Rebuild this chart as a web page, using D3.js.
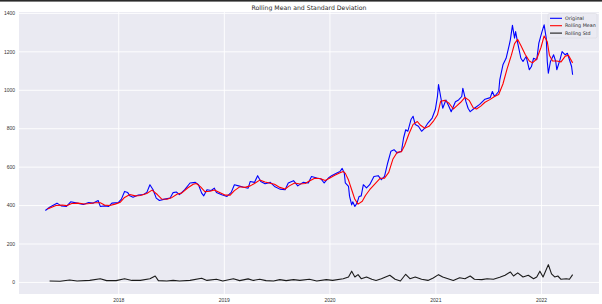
<!DOCTYPE html>
<html>
<head>
<meta charset="utf-8">
<script src="https://cdn.jsdelivr.net/npm/d3@7"></script>
<style>
  body { margin: 0; background: #fff; }
  svg { display: block; font-family: "DejaVu Sans", sans-serif; }
</style>
</head>
<body>
<svg id="chart" width="602" height="304"></svg>
<script>
// [decimal year, price]
const original = [
  [2017.31, 372], [2017.35, 389], [2017.42, 410], [2017.46, 396], [2017.51, 393],
  [2017.55, 417], [2017.61, 410], [2017.67, 403], [2017.72, 413], [2017.76, 410],
  [2017.81, 424], [2017.83, 393], [2017.87, 396], [2017.91, 393], [2017.94, 410],
  [2018.00, 413], [2018.03, 431], [2018.06, 471], [2018.09, 465], [2018.11, 448],
  [2018.14, 441], [2018.19, 452], [2018.24, 455], [2018.27, 465], [2018.30, 506],
  [2018.33, 480], [2018.36, 436], [2018.39, 424], [2018.44, 431], [2018.49, 436],
  [2018.52, 465], [2018.55, 468], [2018.58, 454], [2018.63, 480], [2018.68, 515],
  [2018.73, 518], [2018.76, 506], [2018.79, 462], [2018.81, 448], [2018.84, 480],
  [2018.88, 476], [2018.91, 488], [2018.93, 466], [2018.98, 454], [2019.03, 445],
  [2019.07, 466], [2019.10, 506], [2019.14, 500], [2019.18, 494], [2019.23, 488],
  [2019.25, 523], [2019.29, 518], [2019.32, 553], [2019.35, 523], [2019.39, 511],
  [2019.44, 518], [2019.48, 497], [2019.53, 483], [2019.58, 480], [2019.61, 515],
  [2019.66, 527], [2019.70, 500], [2019.75, 518], [2019.80, 515], [2019.83, 549],
  [2019.88, 541], [2019.92, 536], [2019.95, 515], [2019.99, 541], [2020.02, 553],
  [2020.07, 567], [2020.10, 575], [2020.12, 591], [2020.14, 567], [2020.15, 515],
  [2020.18, 497], [2020.19, 445], [2020.21, 401], [2020.22, 417], [2020.24, 393],
  [2020.26, 410], [2020.28, 445], [2020.30, 448], [2020.32, 506], [2020.35, 489],
  [2020.38, 506], [2020.42, 549], [2020.46, 553], [2020.49, 532], [2020.52, 549],
  [2020.55, 619], [2020.58, 680], [2020.61, 688], [2020.64, 671], [2020.68, 680],
  [2020.70, 749], [2020.72, 792], [2020.74, 784], [2020.77, 845], [2020.79, 862],
  [2020.81, 819], [2020.84, 810], [2020.87, 784], [2020.90, 801], [2020.93, 827],
  [2020.97, 853], [2021.00, 897], [2021.02, 966], [2021.03, 1027], [2021.05, 965],
  [2021.07, 904], [2021.10, 947], [2021.13, 912], [2021.15, 886], [2021.19, 938],
  [2021.22, 947], [2021.25, 965], [2021.26, 1008], [2021.29, 938], [2021.31, 904],
  [2021.33, 886], [2021.37, 904], [2021.42, 924], [2021.47, 951], [2021.52, 959],
  [2021.54, 991], [2021.56, 965], [2021.60, 991], [2021.61, 1051], [2021.64, 1130],
  [2021.67, 1164], [2021.70, 1234], [2021.71, 1260], [2021.73, 1335], [2021.75, 1269],
  [2021.76, 1303], [2021.78, 1243], [2021.81, 1164], [2021.83, 1147], [2021.86, 1173],
  [2021.89, 1104], [2021.91, 1121], [2021.93, 1164], [2021.96, 1156], [2021.98, 1243],
  [2022.01, 1303], [2022.03, 1338], [2022.05, 1269], [2022.06, 1147], [2022.07, 1086],
  [2022.09, 1147], [2022.12, 1182], [2022.14, 1147], [2022.15, 1104], [2022.18, 1156],
  [2022.20, 1199], [2022.23, 1182], [2022.25, 1190], [2022.27, 1156], [2022.29, 1121],
  [2022.30, 1078]
];

const rollingMean = [
  [2017.33, 380], [2017.41, 398], [2017.47, 400], [2017.51, 397], [2017.56, 408],
  [2017.62, 410], [2017.68, 406], [2017.73, 408], [2017.78, 412], [2017.83, 412],
  [2017.87, 400], [2017.92, 398], [2017.97, 405], [2018.02, 415], [2018.06, 440],
  [2018.11, 455], [2018.16, 448], [2018.21, 450], [2018.27, 460], [2018.32, 478],
  [2018.37, 455], [2018.41, 432], [2018.46, 430], [2018.51, 440], [2018.56, 458],
  [2018.60, 462], [2018.66, 490], [2018.71, 508], [2018.74, 512], [2018.78, 495],
  [2018.82, 470], [2018.87, 472], [2018.91, 478], [2018.96, 465], [2019.01, 452],
  [2019.06, 452], [2019.10, 475], [2019.15, 495], [2019.20, 492], [2019.25, 500],
  [2019.29, 512], [2019.34, 530], [2019.39, 520], [2019.43, 515], [2019.48, 508],
  [2019.53, 492], [2019.58, 484], [2019.62, 500], [2019.67, 515], [2019.72, 510],
  [2019.77, 512], [2019.81, 525], [2019.86, 540], [2019.91, 538], [2019.96, 528],
  [2020.00, 540], [2020.05, 555], [2020.10, 568], [2020.13, 575], [2020.15, 565],
  [2020.18, 530], [2020.21, 480], [2020.24, 430], [2020.27, 405], [2020.31, 420],
  [2020.34, 450], [2020.38, 480], [2020.43, 510], [2020.48, 540], [2020.52, 540],
  [2020.56, 570], [2020.60, 640], [2020.64, 675], [2020.68, 678], [2020.71, 710],
  [2020.75, 770], [2020.79, 820], [2020.83, 835], [2020.86, 815], [2020.90, 800],
  [2020.94, 810], [2020.98, 835], [2021.02, 870], [2021.05, 940], [2021.09, 945],
  [2021.13, 930], [2021.17, 900], [2021.20, 915], [2021.24, 935], [2021.28, 960],
  [2021.32, 945], [2021.36, 905], [2021.39, 900], [2021.43, 915], [2021.47, 935],
  [2021.52, 950], [2021.56, 965], [2021.60, 975], [2021.64, 1030], [2021.68, 1110],
  [2021.72, 1180], [2021.75, 1240], [2021.78, 1262], [2021.81, 1230], [2021.85, 1185],
  [2021.89, 1150], [2021.92, 1140], [2021.96, 1160], [2022.00, 1220], [2022.03, 1280],
  [2022.06, 1250], [2022.08, 1180], [2022.11, 1150], [2022.15, 1150], [2022.19, 1145],
  [2022.23, 1175], [2022.26, 1180], [2022.30, 1140]
];

const rollingStd = [
  [2017.35, 5], [2017.45, 4], [2017.54, 10], [2017.61, 5], [2017.73, 8],
  [2017.83, 17], [2017.89, 7], [2017.98, 7], [2018.06, 17], [2018.13, 8],
  [2018.21, 8], [2018.30, 17], [2018.35, 31], [2018.38, 7], [2018.46, 5],
  [2018.52, 8], [2018.58, 5], [2018.68, 8], [2018.79, 19], [2018.84, 8],
  [2018.93, 14], [2018.99, 5], [2019.09, 17], [2019.15, 7], [2019.23, 16],
  [2019.28, 8], [2019.34, 14], [2019.40, 7], [2019.47, 5], [2019.53, 12],
  [2019.59, 7], [2019.66, 12], [2019.72, 8], [2019.81, 14], [2019.88, 5],
  [2019.97, 12], [2020.03, 8], [2020.13, 17], [2020.18, 26], [2020.21, 56],
  [2020.24, 26], [2020.27, 38], [2020.30, 17], [2020.35, 26], [2020.40, 14],
  [2020.44, 8], [2020.49, 17], [2020.57, 35], [2020.62, 14], [2020.67, 5],
  [2020.72, 40], [2020.76, 17], [2020.81, 26], [2020.87, 14], [2020.93, 8],
  [2020.98, 21], [2021.03, 38], [2021.07, 26], [2021.12, 17], [2021.17, 8],
  [2021.23, 22], [2021.28, 17], [2021.33, 31], [2021.37, 14], [2021.44, 12],
  [2021.49, 17], [2021.55, 14], [2021.61, 24], [2021.66, 35], [2021.71, 52],
  [2021.74, 31], [2021.78, 47], [2021.83, 26], [2021.88, 35], [2021.93, 17],
  [2021.96, 26], [2021.99, 56], [2022.02, 26], [2022.07, 90], [2022.10, 42],
  [2022.13, 26], [2022.16, 31], [2022.19, 14], [2022.24, 17], [2022.27, 14],
  [2022.30, 38]
];

const yTicks = [0, 200, 400, 600, 800, 1000, 1200, 1400];
const xTickYears = [2018, 2019, 2020, 2021, 2022];
const seriesNames = ['Original', 'Rolling Mean', 'Rolling Std'];
const seriesColors = ['#0000ff', '#ff0000', '#1a1a1a'];

const width = 602;
const height = 304;
const paddingLeft = 19;
const paddingRight = 3;
const paddingTop = 12;
const paddingBottom = 10;

function toDate(y) {
  const yr = Math.floor(y);
  const start = new Date(yr, 0, 1);
  const end = new Date(yr + 1, 0, 1);
  return new Date(+start + (y - yr) * (end - start));
}

function padExtent(ext) {
  const span = ext[1] - ext[0];
  return [ext[0] - span * 0.05, ext[1] + span * 0.05];
}

const svg = d3.select('#chart');
const plotW = width - paddingLeft - paddingRight;
const plotH = height - paddingTop - paddingBottom;

const all = original.concat(rollingMean, rollingStd);
const xExt = padExtent(d3.extent(all, (d) => +toDate(d[0])));
const yExt = padExtent(d3.extent(all, (d) => d[1]));

const xScale = d3.scaleTime()
  .domain([new Date(xExt[0]), new Date(xExt[1])])
  .range([0, plotW]);
const yScale = d3.scaleLinear()
  .domain(yExt)
  .range([plotH, 0]);

// dark strip at the very top
svg.append('rect')
  .attr('x', 0).attr('y', 0)
  .attr('width', width).attr('height', 1.6)
  .attr('fill', '#2a2a2a');

svg.append('text')
  .attr('x', paddingLeft + plotW / 2)
  .attr('y', 9.5)
  .attr('text-anchor', 'middle')
  .attr('font-size', 6.2)
  .attr('fill', '#262626')
  .text('Rolling Mean and Standard Deviation');

const g = svg.append('g')
  .attr('transform', `translate(${paddingLeft}, ${paddingTop})`);

g.append('rect')
  .attr('width', plotW)
  .attr('height', plotH)
  .attr('fill', '#eaeaf2');

// grid + axes
const xAxis = d3.axisBottom(xScale)
  .tickValues(xTickYears.map((y) => new Date(y, 0, 1)))
  .tickFormat(d3.timeFormat('%Y'))
  .tickSize(-plotH)
  .tickPadding(4);
g.append('g')
  .attr('class', 'xAxis')
  .attr('transform', `translate(0, ${plotH})`)
  .call(xAxis);

const yAxis = d3.axisLeft(yScale)
  .tickValues(yTicks)
  .tickFormat(d3.format('d'))
  .tickSize(-plotW)
  .tickPadding(4);
g.append('g')
  .attr('class', 'yAxis')
  .call(yAxis);

g.selectAll('.domain').remove();
g.selectAll('.tick line')
  .attr('stroke', '#ffffff')
  .attr('stroke-width', 0.9);
g.selectAll('.tick text')
  .attr('font-size', 5)
  .attr('fill', '#333');
g.selectAll('.yAxis .tick text').attr('dy', '0.35em');

const line = d3.line()
  .x((d) => xScale(toDate(d[0])))
  .y((d) => yScale(d[1]));

[original, rollingMean, rollingStd].forEach((series, i) => {
  g.append('path')
    .datum(series)
    .attr('fill', 'none')
    .attr('stroke', seriesColors[i])
    .attr('stroke-width', 1.1)
    .attr('stroke-linejoin', 'round')
    .attr('d', line);
});

// legend
const legW = 49;
const legX = plotW - legW - 2;
const legend = g.append('g')
  .attr('transform', `translate(${legX}, 1.5)`);
legend.append('rect')
  .attr('width', legW)
  .attr('height', 24.5)
  .attr('rx', 1.5)
  .attr('fill', '#eaeaf2')
  .attr('fill-opacity', 0.85)
  .attr('stroke', '#d4d4dc')
  .attr('stroke-width', 0.5);
seriesNames.forEach((name, i) => {
  const yy = 4.8 + i * 7.4;
  legend.append('line')
    .attr('x1', 2).attr('x2', 14)
    .attr('y1', yy).attr('y2', yy)
    .attr('stroke', seriesColors[i])
    .attr('stroke-width', 1.1);
  legend.append('text')
    .attr('x', 17)
    .attr('y', yy)
    .attr('dy', '0.35em')
    .attr('font-size', 4.8)
    .attr('fill', '#262626')
    .text(name);
});
</script>
</body>
</html>
